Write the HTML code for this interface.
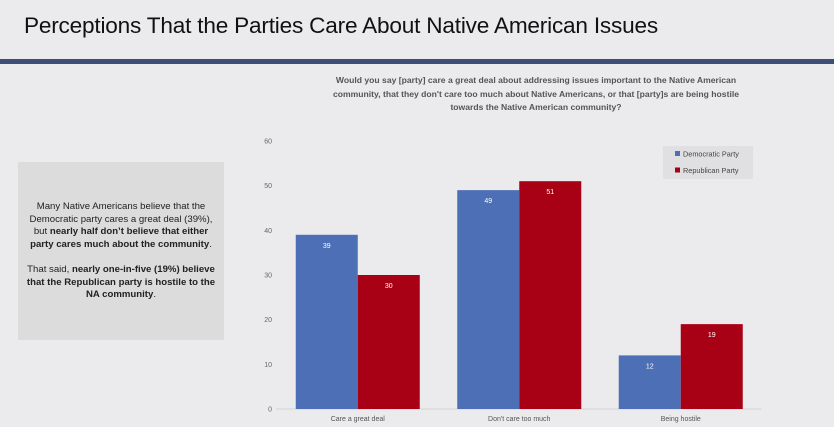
<!DOCTYPE html>
<html><head><meta charset="utf-8"><style>
body{margin:0;width:834px;height:427px;background:#ebeaed;font-family:"Liberation Sans",sans-serif;overflow:hidden;position:relative}
#title{position:absolute;left:24px;top:13px;font-size:22.6px;color:#111;white-space:nowrap;letter-spacing:-0.2px}
#rule{position:absolute;left:0;top:59px;width:834px;height:5px;background:#3d4f78}
#q{position:absolute;left:316px;top:74px;width:440px;text-align:center;font-size:8.6px;line-height:13.5px;color:#555;font-weight:bold}
#note{position:absolute;left:18px;top:162px;width:206px;height:178px;background:#dcdcdc;box-sizing:border-box;padding:39px 8px 0;text-align:center;font-size:9.6px;line-height:12.6px;color:#222}
#note p{margin:0 0 12.6px}
svg{position:absolute;left:0;top:0}
</style></head><body>
<div id="title">Perceptions That the Parties Care About Native American Issues</div>
<div id="rule"></div>
<div id="q">Would you say [party] care a great deal about addressing issues important to the Native American community, that they don't care too much about Native Americans, or that [party]s are being hostile towards the Native American community?</div>
<div id="note"><p>Many Native Americans believe that the Democratic party cares a great deal (39%), but <b>nearly half don’t believe that either party cares much about the community</b>.</p><p>That said, <b>nearly one-in-five (19%) believe that the Republican party is hostile to the NA community</b>.</p></div>
<svg id="chart" width="834" height="427"></svg>
<script>
const categories=["Care a great deal","Don't care too much","Being hostile"];
const demValues=[39,49,12];
const repValues=[30,51,19];
const ticks=[0,10,20,30,40,50,60];
const NS="http://www.w3.org/2000/svg";
const svg=document.getElementById('chart');
const x0=277,bw=161.5,yBase=409,yTop=141,maxV=60;
function y(v){return yBase-(v/maxV)*(yBase-yTop);}
function bx(i){return x0+i*bw;}
function mk(t,a,txt){const e=document.createElementNS(NS,t);for(const k in a)e.setAttribute(k,a[k]);if(txt!==undefined)e.textContent=txt;svg.appendChild(e);return e;}
const ax=mk('line',{x1:x0-1,x2:x0+3*bw,y1:yBase,y2:yBase,stroke:'#d4d4d4','stroke-width':1});


ticks.forEach(t=>{const e=mk('text',{x:272,y:y(t)+2.5,'text-anchor':'end','font-size':7,fill:'#666','font-family':'Liberation Sans, sans-serif'},t);

});
const series=[{vals:demValues,col:'#4d6fb6',name:'dem'},{vals:repValues,col:'#a80014',name:'rep'}];
categories.forEach((c,i)=>{
 const cx=bx(i)+bw/2;
 series.forEach((s,j)=>{
  const v=s.vals[i];const x=cx-62+j*62;
  const r=mk('rect',{x:x,y:y(v),width:62,height:yBase-y(v),fill:s.col});
  
  
  const l=mk('text',{x:x+31,y:y(v)+13,'text-anchor':'middle','font-size':7,fill:'#fff','font-family':'Liberation Sans, sans-serif'},v);
  
  
 });
 const t=mk('text',{x:cx,y:yBase+12,'text-anchor':'middle','font-size':7,fill:'#555','font-family':'Liberation Sans, sans-serif'},c);
 
 
});
const lg=mk('rect',{x:663,y:146,width:90,height:33,fill:'#e0e0e2'});


[['Democratic Party','#4d6fb6'],['Republican Party','#a80014']].forEach((d,k)=>{
 const r=mk('rect',{x:675,y:151+k*16.5,width:5,height:5,fill:d[1]});
 
 
 const t=mk('text',{x:683,y:156.5+k*16.5,'font-size':7.3,fill:'#444','font-family':'Liberation Sans, sans-serif'},d[0]);
 
 
});
</script>
</body></html>
